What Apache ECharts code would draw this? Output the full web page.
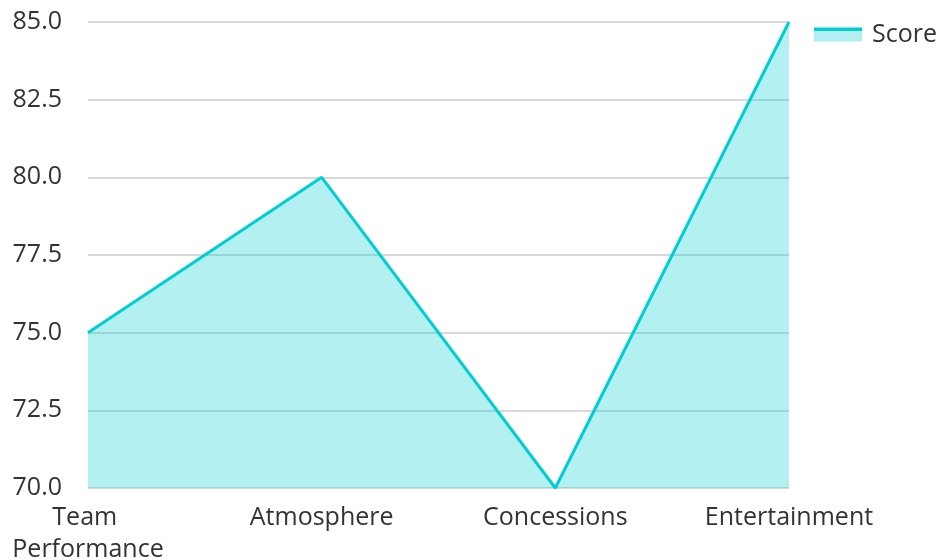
<!DOCTYPE html>
<html>
<head>
<meta charset="utf-8">
<script src="https://cdn.jsdelivr.net/npm/echarts@6/dist/echarts.min.js"></script>
<style>
html, body { margin: 0; padding: 0; background: #fff; }
#main { width: 938px; height: 560px; }
</style>
</head>
<body>
<div id="main"></div>
<script>
var categories = ['Team Performance', 'Atmosphere', 'Concessions', 'Entertainment'];
var scores = [75, 80, 70, 85];

// area line chart
var myChart = echarts.init(document.getElementById('main'));
var option = {
    textStyle: { fontFamily: 'Open Sans' },
    legend: {
        data: [{
            name: 'Score',
            icon: 'rect',
            itemStyle: {
                color: new echarts.graphic.LinearGradient(0, 0, 0, 1, [
                    { offset: 0, color: '#00CED1' },
                    { offset: 0.28, color: '#00CED1' },
                    { offset: 0.28, color: '#b2eff0' },
                    { offset: 1, color: '#b2eff0' }
                ])
            }
        }],
        right: 1,
        top: 22,
        padding: 0,
        itemWidth: 48,
        itemHeight: 14,
        textStyle: { fontSize: 25, color: '#333', fontFamily: 'Open Sans', padding: [0, 0, 0, 5] }
    },
    grid: { left: 88, right: 149, top: 22, bottom: 72, outerBoundsMode: 'none', containLabel: false },
    xAxis: {
        type: 'category',
        data: categories,
        boundaryGap: false,
        axisLine: { show: false },
        axisTick: { show: false },
        axisLabel: {
            fontSize: 25,
            color: '#333',
            margin: 14,
            width: 180,
            overflow: 'break',
            interval: 0,
            lineHeight: 32
        }
    },
    yAxis: {
        type: 'value',
        min: 70,
        max: 85,
        interval: 2.5,
        axisLine: { show: false },
        axisTick: { show: false },
        splitLine: { lineStyle: { color: '#ccc', width: 1.5 } },
        axisLabel: {
            fontSize: 25,
            color: '#333',
            margin: 26,
            formatter: function (v) { return v.toFixed(1); }
        }
    },
    series: [{
        name: 'Score',
        type: 'line',
        data: scores,
        showSymbol: false,
        lineStyle: { color: '#00CED1', width: 3 },
        itemStyle: { color: '#00CED1' },
        areaStyle: { color: '#00CED1', opacity: 0.3 }
    }]
};
myChart.setOption(option);
</script>
</body>
</html>
